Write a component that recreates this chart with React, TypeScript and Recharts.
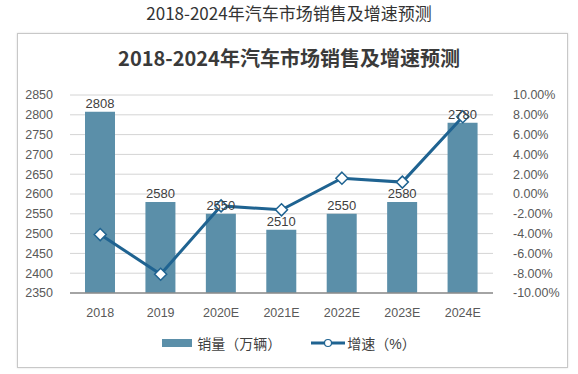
import { ComposedChart, Bar, Line, XAxis, YAxis, CartesianGrid, LabelList, Legend } from "recharts";

const years = ["2018", "2019", "2020E", "2021E", "2022E", "2023E", "2024E"];
const sales = [2808, 2580, 2550, 2510, 2550, 2580, 2780];
const growth = [-4.1, -8.1, -1.2, -1.6, 1.6, 1.2, 7.8];
const salesTicks = [2350, 2400, 2450, 2500, 2550, 2600, 2650, 2700, 2750, 2800, 2850];
const growthTicks = [-10, -8, -6, -4, -2, 0, 2, 4, 6, 8, 10];

const BAR = "#5b8fa9";
const LINE = "#1f6391";
const FONT = "'Liberation Sans', 'Noto Sans CJK SC', sans-serif";

const rows = years.map((y, i) => ({ year: y, sales: sales[i], growth: growth[i] }));

function Diamond(props: any) {
  const { cx, cy, index } = props;
  if (cx == null || cy == null) return null;
  const r = 6;
  return (
    <path
      key={index}
      d={`M${cx},${cy - r}L${cx + r},${cy}L${cx},${cy + r}L${cx - r},${cy}Z`}
      fill="#fff"
      stroke={LINE}
      strokeWidth={1.5}
    />
  );
}

function LegendBox() {
  return (
    <div style={{ height: 20, display: "flex", justifyContent: "center", alignItems: "center", fontFamily: FONT, fontSize: 14, color: "#404040" }}>
      <svg width={30} height={10} style={{ marginRight: 5 }}>
        <rect x={0} y={1} width={30} height={8} fill={BAR} />
      </svg>
      <span style={{ marginRight: 30 }}>销量（万辆）</span>
      <svg width={34} height={10} style={{ marginRight: 2 }}>
        <line x1={0} y1={5} x2={34} y2={5} stroke={LINE} strokeWidth={3} />
        <circle cx={17} cy={5} r={3.5} fill="#fff" stroke={LINE} strokeWidth={1.2} />
      </svg>
      <span>增速（%）</span>
    </div>
  );
}

export default function App() {
  return (
    <div style={{ position: "absolute", left: 0, top: 0, width: 578, height: 374, background: "#fff", overflow: "hidden" }}>
      <div style={{ position: "absolute", left: 0, top: 0, width: 578, textAlign: "center", fontFamily: "'Noto Sans CJK SC', sans-serif", fontSize: 17, color: "#333", lineHeight: "26px" }}>
        2018-2024年汽车市场销售及增速预测
      </div>
      <div style={{ position: "absolute", left: 17, top: 33, width: 549, height: 333, border: "1px solid #c8c8c8", boxShadow: "0 0 2px #ddd" }} />
      <div style={{ position: "absolute", left: 0, top: 44, width: 578, textAlign: "center", fontFamily: "'Noto Sans CJK SC', sans-serif", fontWeight: 700, fontSize: 20, color: "#3a3a3a", lineHeight: "28px" }}>
        2018-2024年汽车市场销售及增速预测
      </div>
      <div style={{ position: "absolute", left: 0, top: 0 }}>
        <ComposedChart width={578} height={374} data={rows} margin={{ top: 95, right: 0, bottom: 21, left: 0 }}>
          <CartesianGrid vertical={false} stroke="#d4d4d4" yAxisId="left" />
          <XAxis dataKey="year" height={40} tickLine={false} axisLine={{ stroke: "#8c8c8c", strokeWidth: 1.5 }} tick={{ fill: "#595959", fontSize: 12.5, fontFamily: FONT }} tickMargin={9} />
          <YAxis yAxisId="left" width={70} domain={[2350, 2850]} ticks={salesTicks} interval={0} allowDataOverflow tickLine={false} axisLine={false} tick={{ fill: "#595959", fontSize: 12.5, fontFamily: FONT }} tickMargin={11} />
          <YAxis yAxisId="right" orientation="right" width={85} domain={[-10, 10]} ticks={growthTicks} interval={0} tickLine={false} axisLine={false} tickFormatter={(v: number) => `${v.toFixed(2)}%`} tick={{ fill: "#595959", fontSize: 12.5, fontFamily: FONT, textAnchor: "start" }} tickMargin={14} />
          <Bar yAxisId="left" dataKey="sales" fill={BAR} barSize={30} isAnimationActive={false}>
            <LabelList dataKey="sales" position="top" offset={4} fill="#404040" fontSize={13} fontFamily={FONT} />
          </Bar>
          <Line yAxisId="right" dataKey="growth" stroke={LINE} strokeWidth={3} dot={Diamond} activeDot={false} isAnimationActive={false} />
          <Legend verticalAlign="bottom" align="center" content={() => <LegendBox />} />
        </ComposedChart>
      </div>
    </div>
  );
}
